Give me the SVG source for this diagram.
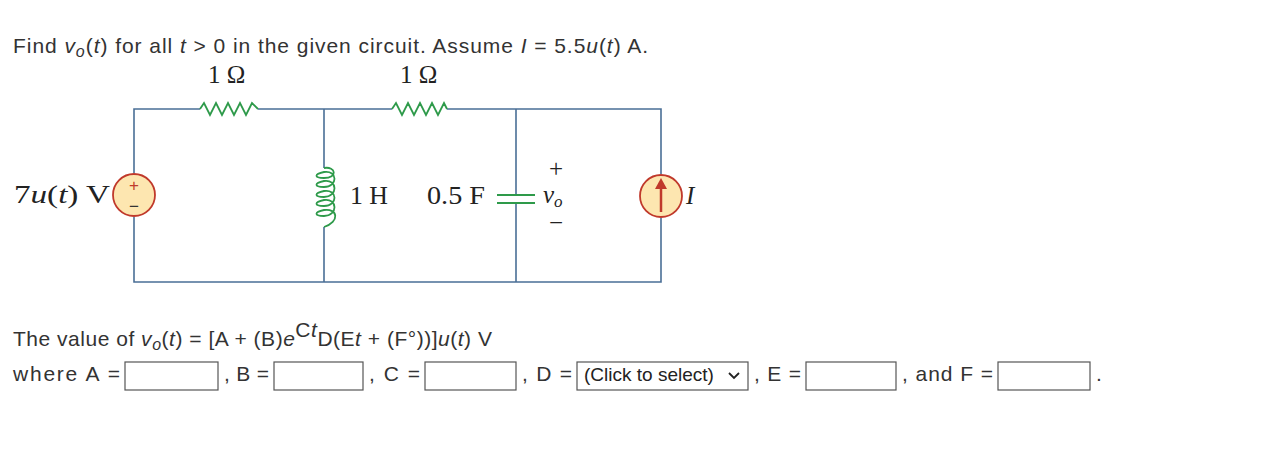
<svg xmlns="http://www.w3.org/2000/svg" width="1264" height="451" viewBox="0 0 1264 451">
<style>
.t{font-family:"Liberation Sans",sans-serif;font-size:21px;fill:#333}
.s{font-family:"Liberation Serif",serif;font-size:25px;fill:#222}
.w{fill:none;stroke:#4a6f96;stroke-width:1.6}
.g{fill:none;stroke:#2e9a4a;stroke-width:1.8}
.box{fill:#fff;stroke:#555;stroke-width:1.2}
.src{fill:#fde6b0;stroke:#c0392b;stroke-width:1.8}
</style>
<rect width="1264" height="451" fill="#fff"/>
<text class="t" x="13" y="53" textLength="635" lengthAdjust="spacing">Find <tspan font-style="italic">v</tspan><tspan font-size="16" dy="4" font-style="italic">o</tspan><tspan dy="-4">(</tspan><tspan font-style="italic">t</tspan>) for all <tspan font-style="italic">t</tspan> &gt; 0 in the given circuit. Assume <tspan font-style="italic">I</tspan> = 5.5<tspan font-style="italic">u</tspan>(<tspan font-style="italic">t</tspan>) A.</text>
<g id="wires" class="w">
<path d="M200 109H134V173M134 217V282H661V218M661 174V109H447M392 109H258"/>
<path d="M324 109V168M324 227V282"/>
<path d="M516 109V195M516 203V282"/>
</g>
<g id="R1"><path class="g" d="M200 109L204 103L210 115L216 103L222 115L228 103L234 115L240 103L246 115L252 103L258 109"/><text class="s" x="208" y="83">1 Ω</text></g>
<g id="R2"><path class="g" d="M392 109L396 103L402 115L408 103L414 115L420 103L426 115L432 103L438 115L444 103L447 109"/><text class="s" x="400" y="83">1 Ω</text></g>
<g id="V"><circle class="src" cx="134" cy="195" r="21"/><text x="134" y="191" text-anchor="middle" font-family="Liberation Sans,sans-serif" font-size="17" fill="#c0392b">+</text><text x="134" y="212" text-anchor="middle" font-family="Liberation Sans,sans-serif" font-size="17" fill="#333">−</text><text class="s" x="14" y="203" textLength="96" lengthAdjust="spacingAndGlyphs">7<tspan font-style="italic">u</tspan>(<tspan font-style="italic">t</tspan>) V</text></g>
<g id="L"><path class="g" d="M324 168C336 166 338 178 324 178C314 178 314 174 324 172C338 170 338 187 324 187C314 187 314 183 324 181C338 179 338 197 324 197C314 197 314 193 324 191C338 189 338 206 324 206C314 206 314 202 324 200C338 198 338 216 324 216C314 216 314 212 324 210C338 208 340 222 324 227"/><text class="s" x="350" y="204" textLength="38" lengthAdjust="spacingAndGlyphs">1 H</text></g>
<g id="C"><path class="g" d="M497 195H535M497 203H535"/><text class="s" x="427" y="204" textLength="58" lengthAdjust="spacingAndGlyphs">0.5 F</text><text class="s" x="556" y="177" text-anchor="middle">+</text><text class="s" x="543" y="203" font-style="italic">v<tspan font-size="17" dy="4">o</tspan></text><text class="s" x="556" y="231" text-anchor="middle">−</text></g>
<g id="I"><circle class="src" cx="661" cy="196" r="21"/><path d="M661 212V186" stroke="#c0392b" stroke-width="2.5"/><path d="M655 189L661 178L667 189Z" fill="#c0392b"/><text class="s" x="686" y="204" font-style="italic">I</text></g>
<text class="t" x="13" y="346" textLength="479" lengthAdjust="spacing">The value of <tspan font-style="italic">v</tspan><tspan font-size="16" dy="4" font-style="italic">o</tspan><tspan dy="-4">(</tspan><tspan font-style="italic">t</tspan>) = [A + (B)<tspan font-style="italic">e</tspan><tspan dy="-9">C<tspan font-style="italic">t</tspan></tspan><tspan dy="9">D(E</tspan><tspan font-style="italic">t</tspan> + (F°))]<tspan font-style="italic">u</tspan>(<tspan font-style="italic">t</tspan>) V</text>
<text class="t" x="13" y="381" textLength="107" lengthAdjust="spacing">where A =</text>
<rect class="box" x="125" y="362" width="93" height="28"/>
<text class="t" x="224" y="381" textLength="45" lengthAdjust="spacing">, B =</text>
<rect class="box" x="274" y="362" width="89" height="28"/>
<text class="t" x="369" y="381" textLength="51" lengthAdjust="spacing">, C =</text>
<rect class="box" x="425" y="362" width="91" height="28"/>
<text class="t" x="522" y="381" textLength="50" lengthAdjust="spacing">, D =</text>
<rect class="box" x="577" y="362" width="171" height="28"/>
<text x="584" y="381" font-family="Liberation Sans,sans-serif" font-size="19" fill="#222">(Click to select)</text>
<path d="M729 373L734 378L739 373" fill="none" stroke="#222" stroke-width="1.8"/>
<text class="t" x="754" y="381" textLength="47" lengthAdjust="spacing">, E =</text>
<rect class="box" x="806" y="362" width="90" height="28"/>
<text class="t" x="902" y="381" textLength="91" lengthAdjust="spacing">, and F =</text>
<rect class="box" x="998" y="362" width="92" height="28"/>
<text class="t" x="1096" y="381">.</text>
</svg>
